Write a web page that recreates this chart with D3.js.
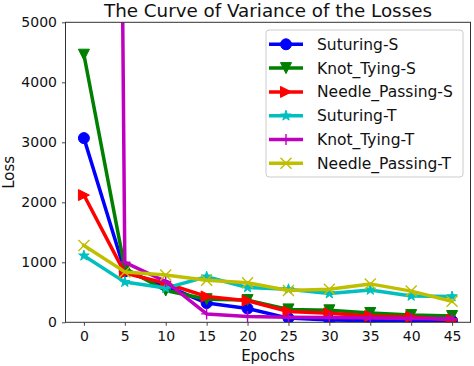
<!DOCTYPE html>
<html>
<head>
<meta charset="utf-8">
<script src="https://cdn.jsdelivr.net/npm/d3@7"></script>
<style>
  html, body { margin: 0; padding: 0; background: #fff; }
  svg { display: block; font-family: "DejaVu Sans", sans-serif; }
</style>
</head>
<body>
<svg id="chart" width="474" height="366"></svg>
<script>
// ---- data ----
const epochs = [0, 5, 10, 15, 20, 25, 30, 35, 40, 45];
const seriesNames = ["Suturing-S", "Knot_Tying-S", "Needle_Passing-S", "Suturing-T", "Knot_Tying-T", "Needle_Passing-T"];
const suturingS      = [3070, 850, 610, 320, 230, 70, 40, 30, 30, 25];
const knotTyingS     = [4460, 900, 530, 385, 370, 215, 200, 155, 120, 105];
const needlePassingS = [2120, 820, 650, 430, 360, 180, 150, 105, 90, 40];
const suturingT      = [1110, 670, 570, 760, 580, 550, 480, 540, 440, 430];
const knotTyingT     = [80000, 1000, 680, 140, 95, 85, 80, 70, 65, 60];
const needlePassingT = [1280, 840, 790, 700, 660, 530, 550, 640, 520, 350];
const xTicks = [0, 5, 10, 15, 20, 25, 30, 35, 40, 45];
const yTicks = [0, 1000, 2000, 3000, 4000, 5000];
const colors = ["#0000ff", "#008000", "#ff0000", "#00bfbf", "#bf00bf", "#bfbf00"];
const markers = ["circle", "tridown", "triright", "star", "plus", "x"];
const allValues = [suturingS, knotTyingS, needlePassingS, suturingT, knotTyingT, needlePassingT];

// ---- layout ----
const svg = d3.select("#chart");
const pLeft = 65.5, pRight = 470.5, pTop = 22.3, pBottom = 322.3;
const x = d3.scaleLinear().domain([-2.25, 47.25]).range([pLeft, pRight]);
const y = d3.scaleLinear().domain([0, 5000]).range([pBottom, pTop]);

svg.append("defs").append("clipPath").attr("id", "clip")
  .append("rect").attr("x", pLeft).attr("y", pTop).attr("width", pRight - pLeft).attr("height", pBottom - pTop);

function markerPath(kind, r) {
  switch (kind) {
    case "circle": return d3.symbol(d3.symbolCircle, Math.PI * r * r)();
    case "tridown": return `M${-r},${-r}L${r},${-r}L0,${r}Z`;
    case "triright": return `M${-r},${-r}L${r},0L${-r},${r}Z`;
    case "star": {
      let p = "";
      for (let i = 0; i < 10; i++) {
        const rr = i % 2 === 0 ? r : r * 0.381966;
        const a = -Math.PI / 2 + i * Math.PI / 5;
        p += (i === 0 ? "M" : "L") + (rr * Math.cos(a)).toFixed(2) + "," + (rr * Math.sin(a)).toFixed(2);
      }
      return p + "Z";
    }
    case "plus": return `M${-r},0H${r}M0,${-r}V${r}`;
    case "x": return `M${-r},${-r}L${r},${r}M${-r},${r}L${r},${-r}`;
  }
}
const strokeOnly = k => k === "plus" || k === "x";

const plot = svg.append("g").attr("clip-path", "url(#clip)");
const line = d3.line().x((d, i) => x(epochs[i])).y(d => y(d));

allValues.forEach((vals, s) => {
  const g = plot.append("g");
  g.append("path").datum(vals).attr("d", line)
    .attr("fill", "none").attr("stroke", colors[s]).attr("stroke-width", 3.5)
    .attr("stroke-linejoin", "round").attr("stroke-linecap", "square");
  g.selectAll("path.m").data(vals).enter().append("path").attr("class", "m")
    .attr("transform", (d, i) => `translate(${x(epochs[i])},${y(d)})`)
    .attr("d", markerPath(markers[s], 5.5))
    .attr("fill", strokeOnly(markers[s]) ? "none" : colors[s])
    .attr("stroke", colors[s]).attr("stroke-width", strokeOnly(markers[s]) ? 1.4 : 1);
});

// ---- axes ----
const axisColor = "#333";
const xAxis = svg.append("g").attr("transform", `translate(0,${pBottom})`)
  .call(d3.axisBottom(x).tickValues(xTicks).tickSize(3.5).tickSizeOuter(0).tickPadding(5));
const yAxis = svg.append("g").attr("transform", `translate(${pLeft},0)`)
  .call(d3.axisLeft(y).tickValues(yTicks).tickSize(3.5).tickSizeOuter(0).tickPadding(5).tickFormat(d3.format("d")));
[xAxis, yAxis].forEach(a => {
  a.select(".domain").remove();
  a.selectAll("line").attr("stroke", axisColor).attr("stroke-width", 0.9);
  a.selectAll("text").attr("fill", "#111").style("font-size", "14px").style("font-family", "DejaVu Sans");
});
svg.append("rect").attr("x", pLeft).attr("y", pTop).attr("width", pRight - pLeft).attr("height", pBottom - pTop)
  .attr("fill", "none").attr("stroke", axisColor).attr("stroke-width", 1);

// ---- titles ----
svg.append("text").attr("x", (pLeft + pRight) / 2).attr("y", 17).attr("text-anchor", "middle")
  .style("font-size", "18.3px").attr("fill", "#111").text("The Curve of Variance of the Losses");
svg.append("text").attr("x", (pLeft + pRight) / 2).attr("y", 361).attr("text-anchor", "middle")
  .style("font-size", "15px").attr("fill", "#111").text("Epochs");
svg.append("text").attr("transform", `translate(14,${(pTop + pBottom) / 2}) rotate(-90)`).attr("text-anchor", "middle")
  .style("font-size", "15px").attr("fill", "#111").text("Loss");

// ---- legend ----
const lg = svg.append("g");
lg.append("rect").attr("x", 266).attr("y", 30).attr("width", 197).attr("height", 147).attr("rx", 3)
  .attr("fill", "#fff").attr("fill-opacity", 0.8).attr("stroke", "#ccc").attr("stroke-width", 1);
seriesNames.forEach((name, s) => {
  const yy = 44.3 + s * 23.8;
  lg.append("line").attr("x1", 269).attr("x2", 303).attr("y1", yy).attr("y2", yy)
    .attr("stroke", colors[s]).attr("stroke-width", 3.5);
  lg.append("path").attr("transform", `translate(286,${yy})`).attr("d", markerPath(markers[s], 5.5))
    .attr("fill", strokeOnly(markers[s]) ? "none" : colors[s])
    .attr("stroke", colors[s]).attr("stroke-width", strokeOnly(markers[s]) ? 1.4 : 1);
  lg.append("text").attr("x", 317).attr("y", yy).attr("dy", "0.36em")
    .style("font-size", "15.5px").attr("fill", "#111").text(name);
});
</script>
</body>
</html>
